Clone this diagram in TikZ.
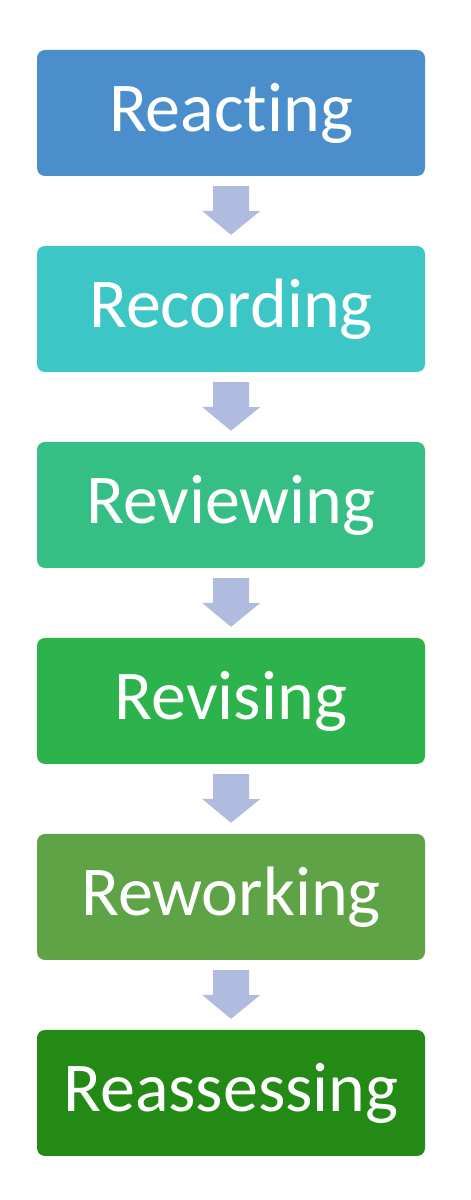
\documentclass[tikz,border=0pt]{standalone}
\usepackage{fontspec}
\setmainfont{Carlito}[Ligatures={NoCommon,NoRare,NoContextual}]
\usetikzlibrary{calc}
\definecolor{cA}{HTML}{4A8FCC}
\definecolor{cB}{HTML}{3CC6C5}
\definecolor{cC}{HTML}{36BF85}
\definecolor{cD}{HTML}{2DB34C}
\definecolor{cE}{HTML}{5EA346}
\definecolor{cF}{HTML}{228A15}
\definecolor{arr}{HTML}{AFBCE0}
\tikzset{
  stepbox/.style={rectangle, rounded corners=8pt, minimum width=388pt, minimum height=126pt, inner sep=0pt, text=white, font=\fontsize{70}{70}\selectfont},
  downarrow/.style={fill=arr, draw=none}
}
\begin{document}
\begin{tikzpicture}[x=1pt,y=1pt]
\useasboundingbox (0,0) rectangle (471,1200);
\fill[white] (0,0) rectangle (471,1200);
\foreach \n/\c/\t/\yt in {a/cA/Reacting/50, b/cB/Recording/246, c/cC/Reviewing/442, d/cD/Revising/638, e/cE/Reworking/834, f/cF/Reassessing/1030}{
  \node[stepbox, fill=\c] (\n) at (231, 1200-\yt-63) {\t};
}
\foreach \a/\b in {a/b, b/c, c/d, d/e, e/f}{
  \path (\a.south) ++(0,-10) coordinate (\a top);
  \fill[downarrow] (\a top) ++(-18,0) -- ++(36,0) -- ++(0,-25) -- ++(11,0) -- ($(\b.north)+(0,11)$) -- ++(-29,24) -- ++(11,0) -- cycle;
}
\end{tikzpicture}
\end{document}
